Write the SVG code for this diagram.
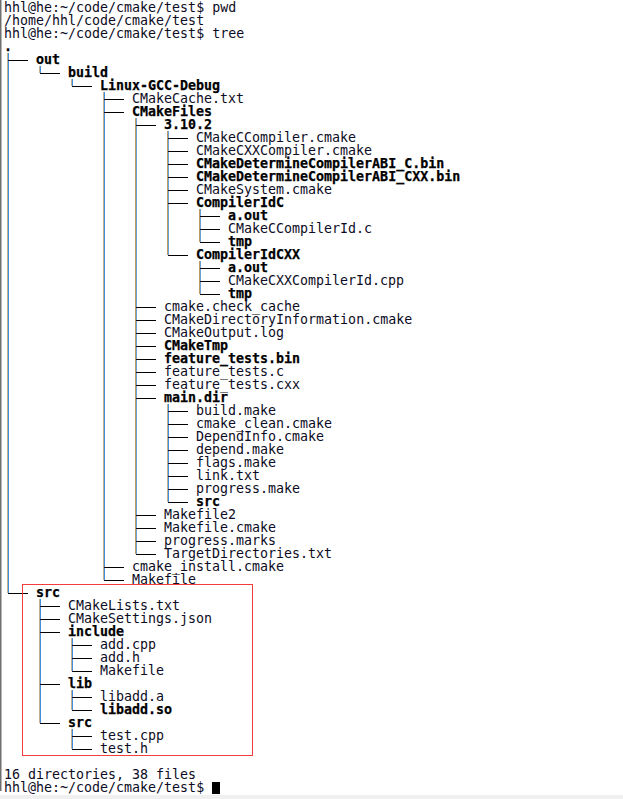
<svg xmlns="http://www.w3.org/2000/svg" width="623" height="799" viewBox="0 0 623 799">
<style>
text{font-family:"DejaVu Sans Mono","Liberation Mono",monospace;font-size:13.3px;fill:#0c0c24;white-space:pre}
.b{font-weight:bold;fill:#000;stroke:#000;stroke-width:.25}
.h{stroke:#000;stroke-width:1;fill:none}
.v{stroke:#3f8fe0;stroke-width:1;fill:none}
.vf{stroke:#c9b08c;stroke-width:1;fill:none}
.t{stroke:#c09860;stroke-width:1;fill:none}
.tf{stroke:#6aa0d8;stroke-width:1;fill:none}
</style>
<rect width="623" height="799" fill="#fff"/>
<rect x="0" y="0" width="1.5" height="791" fill="#707070"/>
<rect x="0" y="795" width="623" height="4" fill="#f0f0f0"/>
<g id="connectors" transform="translate(0 1)">
<path class="vf" d="M7.5 52V592M39.5 65V72M71.5 78V85M103.5 91V579M39.5 598V722M71.5 637V670M71.5 689V709M71.5 728V748M167.5 403V501"/>
<path class="v" d="M8.5 52V592M40.5 65V72M72.5 78V85M104.5 91V579M40.5 598V722M72.5 637V670M72.5 689V709M72.5 728V748M168.5 403V501"/>
<path class="t" d="M135.5 117V553M167.5 130V254M199.5 208V241M199.5 260V293"/>
<path class="tf" d="M136.5 117V553M168.5 130V254M200.5 208V241M200.5 260V293"/>
<path class="h" d="M8 59.5H28M8 592.5H28M40 72.5H60M72 85.5H92"/>
<path class="h" d="M104 98.5H124M104 111.5H124M104 566.5H124M104 579.5H124"/>
<path class="h" d="M136 124.5H156M136 306.5H156M136 319.5H156M136 332.5H156M136 345.5H156M136 358.5H156M136 371.5H156M136 384.5H156M136 397.5H156M136 514.5H156M136 527.5H156M136 540.5H156M136 553.5H156"/>
<path class="h" d="M168 137.5H188M168 150.5H188M168 163.5H188M168 176.5H188M168 189.5H188M168 202.5H188M168 254.5H188"/>
<path class="h" d="M200 215.5H220M200 228.5H220M200 241.5H220M200 267.5H220M200 280.5H220M200 293.5H220"/>
<path class="h" d="M168 410.5H188M168 423.5H188M168 436.5H188M168 449.5H188M168 462.5H188M168 475.5H188M168 488.5H188M168 501.5H188"/>
<path class="h" d="M40 605.5H60M40 618.5H60M40 631.5H60M40 683.5H60M40 722.5H60"/>
<path class="h" d="M72 644.5H92M72 657.5H92M72 670.5H92M72 696.5H92M72 709.5H92M72 735.5H92M72 748.5H92"/>
</g>
<g id="terminal">
<text x="4" y="12">hhl@he:~/code/cmake/test$ pwd</text>
<text x="4" y="25">/home/hhl/code/cmake/test</text>
<text x="4" y="38">hhl@he:~/code/cmake/test$ tree</text>
<text x="4" y="779">16 directories, 38 files</text>
<text x="4" y="792">hhl@he:~/code/cmake/test$</text>
<rect x="212" y="782" width="8" height="12" fill="#000"/>
</g>
<g id="tree-out">
<text class="b" x="4" y="51">.</text>
<text class="b" x="36" y="64">out</text>
<text class="b" x="68" y="77">build</text>
<text class="b" x="100" y="90">Linux-GCC-Debug</text>
<text x="132" y="103">CMakeCache.txt</text>
<text class="b" x="132" y="116">CMakeFiles</text>
<text class="b" x="164" y="129">3.10.2</text>
<text x="196" y="142">CMakeCCompiler.cmake</text>
<text x="196" y="155">CMakeCXXCompiler.cmake</text>
<text class="b" x="196" y="168">CMakeDetermineCompilerABI_C.bin</text>
<text class="b" x="196" y="181">CMakeDetermineCompilerABI_CXX.bin</text>
<text x="196" y="194">CMakeSystem.cmake</text>
<text class="b" x="196" y="207">CompilerIdC</text>
<text class="b" x="228" y="220">a.out</text>
<text x="228" y="233">CMakeCCompilerId.c</text>
<text class="b" x="228" y="246">tmp</text>
<text class="b" x="196" y="259">CompilerIdCXX</text>
<text class="b" x="228" y="272">a.out</text>
<text x="228" y="285">CMakeCXXCompilerId.cpp</text>
<text class="b" x="228" y="298">tmp</text>
<text x="164" y="311">cmake.check_cache</text>
<text x="164" y="324">CMakeDirectoryInformation.cmake</text>
<text x="164" y="337">CMakeOutput.log</text>
<text class="b" x="164" y="350">CMakeTmp</text>
<text class="b" x="164" y="363">feature_tests.bin</text>
<text x="164" y="376">feature_tests.c</text>
<text x="164" y="389">feature_tests.cxx</text>
<text class="b" x="164" y="402">main.dir</text>
<text x="196" y="415">build.make</text>
<text x="196" y="428">cmake_clean.cmake</text>
<text x="196" y="441">DependInfo.cmake</text>
<text x="196" y="454">depend.make</text>
<text x="196" y="467">flags.make</text>
<text x="196" y="480">link.txt</text>
<text x="196" y="493">progress.make</text>
<text class="b" x="196" y="506">src</text>
<text x="164" y="519">Makefile2</text>
<text x="164" y="532">Makefile.cmake</text>
<text x="164" y="545">progress.marks</text>
<text x="164" y="558">TargetDirectories.txt</text>
<text x="132" y="571">cmake_install.cmake</text>
<text x="132" y="584">Makefile</text>
</g>
<g id="tree-src">
<rect x="22.5" y="584.5" width="230" height="171" fill="none" stroke="#f53c3c" stroke-width="1"/>
<text class="b" x="36" y="597">src</text>
<text x="68" y="610">CMakeLists.txt</text>
<text x="68" y="623">CMakeSettings.json</text>
<text class="b" x="68" y="636">include</text>
<text x="100" y="649">add.cpp</text>
<text x="100" y="662">add.h</text>
<text x="100" y="675">Makefile</text>
<text class="b" x="68" y="688">lib</text>
<text x="100" y="701">libadd.a</text>
<text class="b" x="100" y="714">libadd.so</text>
<text class="b" x="68" y="727">src</text>
<text x="100" y="740">test.cpp</text>
<text x="100" y="753">test.h</text>
</g>
</svg>
